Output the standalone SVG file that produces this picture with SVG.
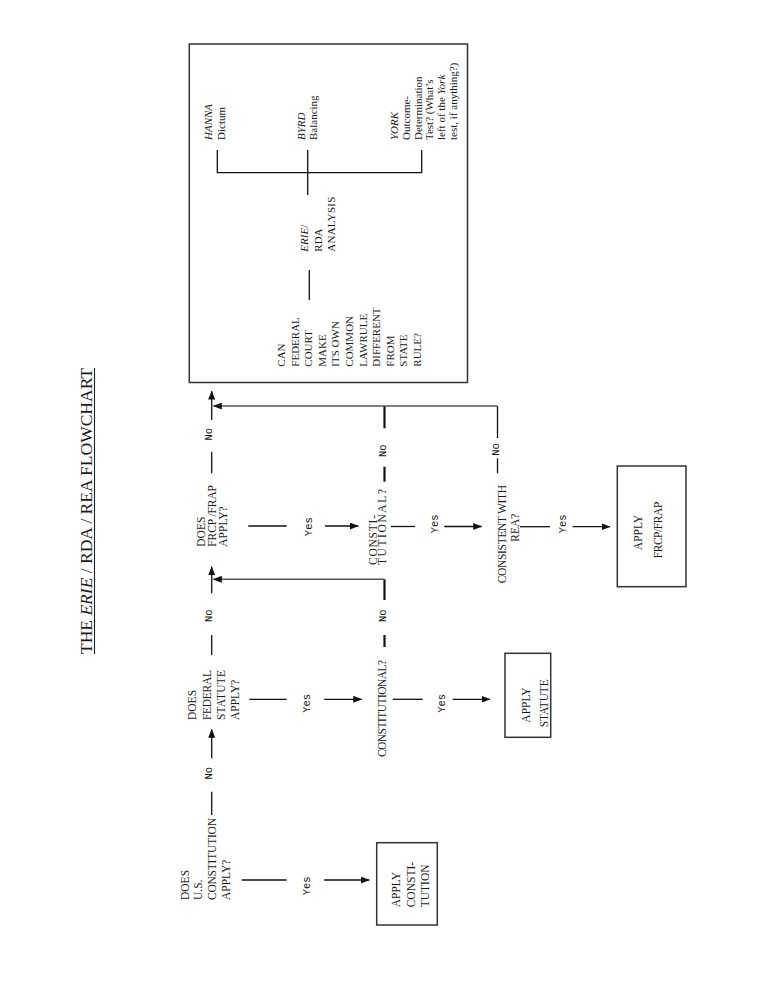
<svg xmlns="http://www.w3.org/2000/svg" width="768" height="994" viewBox="0 0 768 994">
<defs>
<marker id="ah" markerUnits="userSpaceOnUse" markerWidth="9" markerHeight="7" refX="8.5" refY="3.5" orient="auto"><path d="M0,0 L9,3.5 L0,7 z" fill="#111"/></marker>
<style>
text{font-family:"Liberation Serif","Times New Roman",serif;fill:#1a1a1a;font-size:11.5px}
.sm{font-size:11px}
.lbl{font-family:"Liberation Mono","Courier New",monospace;font-size:10.5px;text-anchor:middle;fill:#111}
.it{font-style:italic}
.ln{stroke:#111;stroke-width:1.3;fill:none}
.thick{stroke:#111;stroke-width:2.2;fill:none}
.fb{stroke:#555;stroke-width:1.6;fill:none}
.box{fill:none;stroke:#333;stroke-width:1.5}
.mid{text-anchor:middle}
</style>
</defs>
<rect width="768" height="994" fill="#fff"/>

<g id="title">
<text transform="translate(92,654) rotate(-90)" style="font-size:16.5px" textLength="286" lengthAdjust="spacingAndGlyphs">THE <tspan class="it">ERIE</tspan> / RDA / REA FLOWCHART</text>
<line x1="94.5" y1="368" x2="94.5" y2="654" stroke="#222" stroke-width="1.1"/>
</g>

<g id="node-us-constitution">
<text transform="translate(188.5,900) rotate(-90)"><tspan x="0" y="0">DOES</tspan><tspan x="0" y="13.7">U.S.</tspan><tspan x="0" y="27.2" textLength="82">CONSTITUTION</tspan><tspan x="0" y="41">APPLY?</tspan></text>
</g>
<g id="node-apply-constitution">
<rect class="box" x="376.7" y="842.7" width="60.6" height="82.3"/>
<text transform="translate(400,907.3) rotate(-90)"><tspan x="0" y="0">APPLY</tspan><tspan x="0" y="14.5">CONSTI-</tspan><tspan x="0" y="28.7">TUTION</tspan></text>
</g>

<g id="node-federal-statute">
<text transform="translate(196,720) rotate(-90)"><tspan x="0" y="0">DOES</tspan><tspan x="0" y="14.8" textLength="50">FEDERAL</tspan><tspan x="0" y="29" textLength="50">STATUTE</tspan><tspan x="0" y="42.5">APPLY?</tspan></text>
</g>
<g id="node-constitutional-1">
<text transform="translate(386,757) rotate(-90)" textLength="97">CONSTITUTIONAL?</text>
</g>
<g id="node-apply-statute">
<rect class="box" x="505" y="653.3" width="45.7" height="84"/>
<text class="mid" transform="translate(530,705) rotate(-90)">APPLY</text>
<text class="mid" transform="translate(548.3,703.3) rotate(-90)" textLength="48">STATUTE</text>
</g>

<g id="node-frcp">
<text transform="translate(205,546.7) rotate(-90)"><tspan x="0" y="0">DOES</tspan><tspan x="0" y="11" textLength="61.7">FRCP /FRAP</tspan><tspan x="0" y="21.5">APPLY?</tspan></text>
</g>
<g id="node-constitutional-2">
<text transform="translate(376.5,565) rotate(-90)"><tspan x="0" y="0" textLength="50">CONSTI-</tspan><tspan x="0" y="9.5" textLength="76">TUTIONAL?</tspan></text>
</g>
<g id="node-consistent-rea">
<text transform="translate(506,583.3) rotate(-90)" textLength="98.3">CONSISTENT WITH</text>
<text transform="translate(519.3,541.7) rotate(-90)">REA?</text>
</g>
<g id="node-apply-frcp">
<rect class="box" x="617.3" y="466" width="68.7" height="120.7"/>
<text class="mid" transform="translate(641.7,532.5) rotate(-90)">APPLY</text>
<text class="mid" transform="translate(661.7,530) rotate(-90)" textLength="56.6">FRCP/FRAP</text>
</g>

<g id="node-erie-box">
<rect class="box" x="189.3" y="44" width="278.2" height="338.5"/>
<g id="node-can-federal">
<text class="sm" transform="translate(285,366.7) rotate(-90)"><tspan x="0" y="0">CAN</tspan><tspan x="0" y="13.6">FEDERAL</tspan><tspan x="0" y="27.2">COURT</tspan><tspan x="0" y="40.8">MAKE</tspan><tspan x="0" y="54.4">ITS OWN</tspan><tspan x="0" y="68">COMMON</tspan><tspan x="0" y="81.6">LAWRULE</tspan><tspan x="0" y="95.2">DIFFERENT</tspan><tspan x="0" y="108.8">FROM</tspan><tspan x="0" y="122.4">STATE</tspan><tspan x="0" y="136">RULE?</tspan></text>
</g>
<g id="node-erie-rda">
<text class="sm" transform="translate(308.3,251.7) rotate(-90)"><tspan x="0" y="0"><tspan class="it">ERIE</tspan>/</tspan><tspan x="0" y="14">RDA</tspan><tspan x="0" y="26.7" textLength="55">ANALYSIS</tspan></text>
</g>
<g id="node-hanna">
<text class="sm" transform="translate(211.7,140) rotate(-90)"><tspan x="0" y="0" class="it">HANNA</tspan><tspan x="0" y="13.8">Dictum</tspan></text>
</g>
<g id="node-byrd">
<text class="sm" transform="translate(305,140) rotate(-90)"><tspan x="0" y="0" class="it">BYRD</tspan><tspan x="0" y="11.5">Balancing</tspan></text>
</g>
<g id="node-york">
<text class="sm" transform="translate(398.3,140) rotate(-90)"><tspan x="0" y="0" class="it">YORK</tspan><tspan x="0" y="11.7">Outcome-</tspan><tspan x="0" y="23.4">Determination</tspan><tspan x="0" y="35.1">Test? (What’s</tspan><tspan x="0" y="46.8">left of the <tspan class="it">York</tspan></tspan><tspan x="0" y="58.5">test, if anything?)</tspan></text>
</g>
</g>

<g id="connectors">
<line class="ln" x1="241.7" y1="880" x2="286.7" y2="880"/>
<text class="lbl" transform="translate(310,885.8) rotate(-90)">Yes</text>
<line class="ln" x1="324.3" y1="880" x2="369.3" y2="880" marker-end="url(#ah)"/>
<line class="ln" x1="211.7" y1="815" x2="211.7" y2="791.7"/>
<text class="lbl" transform="translate(212,773.3) rotate(-90)">No</text>
<line class="ln" x1="211.7" y1="758.3" x2="211.7" y2="729.3" marker-end="url(#ah)"/>
<line class="ln" x1="249.3" y1="699.3" x2="286.7" y2="699.3"/>
<text class="lbl" transform="translate(310,703.3) rotate(-90)">Yes</text>
<line class="ln" x1="324.3" y1="699.3" x2="361.7" y2="699.3" marker-end="url(#ah)"/>
<line class="ln" x1="392.7" y1="699.3" x2="422.7" y2="699.3"/>
<text class="lbl" transform="translate(445,703.3) rotate(-90)">Yes</text>
<line class="ln" x1="452.7" y1="699.3" x2="490" y2="699.3" marker-end="url(#ah)"/>
<line class="thick" x1="384.5" y1="647" x2="384.5" y2="635"/>
<text class="lbl" transform="translate(385.5,615.8) rotate(-90)">No</text>
<line class="thick" x1="384.5" y1="600" x2="384.5" y2="579.3"/>
<line class="fb" x1="384.5" y1="579.3" x2="213.3" y2="579.3" marker-end="url(#ah)"/>
<line class="ln" x1="211.7" y1="655" x2="211.7" y2="635"/>
<text class="lbl" transform="translate(212,615.8) rotate(-90)">No</text>
<line class="ln" x1="211.7" y1="593.3" x2="211.7" y2="566.7" marker-end="url(#ah)"/>
<line class="ln" x1="248.3" y1="526" x2="286.7" y2="526"/>
<text class="lbl" transform="translate(311.7,526.7) rotate(-90)">Yes</text>
<line class="ln" x1="325" y1="526" x2="358.3" y2="526" marker-end="url(#ah)"/>
<line class="ln" x1="391" y1="526.5" x2="415" y2="526.5"/>
<text class="lbl" transform="translate(437.7,523.8) rotate(-90)">Yes</text>
<line class="ln" x1="444.3" y1="526.5" x2="481.7" y2="526.5" marker-end="url(#ah)"/>
<line class="ln" x1="520" y1="526.7" x2="550" y2="526.7"/>
<text class="lbl" transform="translate(566,523.8) rotate(-90)">Yes</text>
<line class="ln" x1="572.7" y1="526.7" x2="610" y2="526.7" marker-end="url(#ah)"/>
<line class="ln" x1="211.7" y1="473.3" x2="211.7" y2="451.7"/>
<text class="lbl" transform="translate(212,434.2) rotate(-90)">No</text>
<line class="ln" x1="211.7" y1="420" x2="211.7" y2="391" marker-end="url(#ah)"/>
<line class="thick" x1="384.5" y1="481.7" x2="384.5" y2="466.7"/>
<text class="lbl" transform="translate(385.5,450.8) rotate(-90)">No</text>
<line class="thick" x1="384.5" y1="428.3" x2="384.5" y2="406"/>
<line class="ln" x1="497.5" y1="473.3" x2="497.5" y2="458.3"/>
<text class="lbl" transform="translate(498.5,449.5) rotate(-90)">No</text>
<line class="ln" x1="497.5" y1="438" x2="497.5" y2="406"/>
<line class="fb" x1="497.5" y1="406" x2="213.3" y2="406" marker-end="url(#ah)"/>
<line class="ln" x1="309.3" y1="300" x2="309.3" y2="270"/>
<path class="ln" d="M217.3,150 V172.7 H421.7 V150"/>
<line class="ln" x1="307.7" y1="150" x2="307.7" y2="195"/>
</g>
</svg>
